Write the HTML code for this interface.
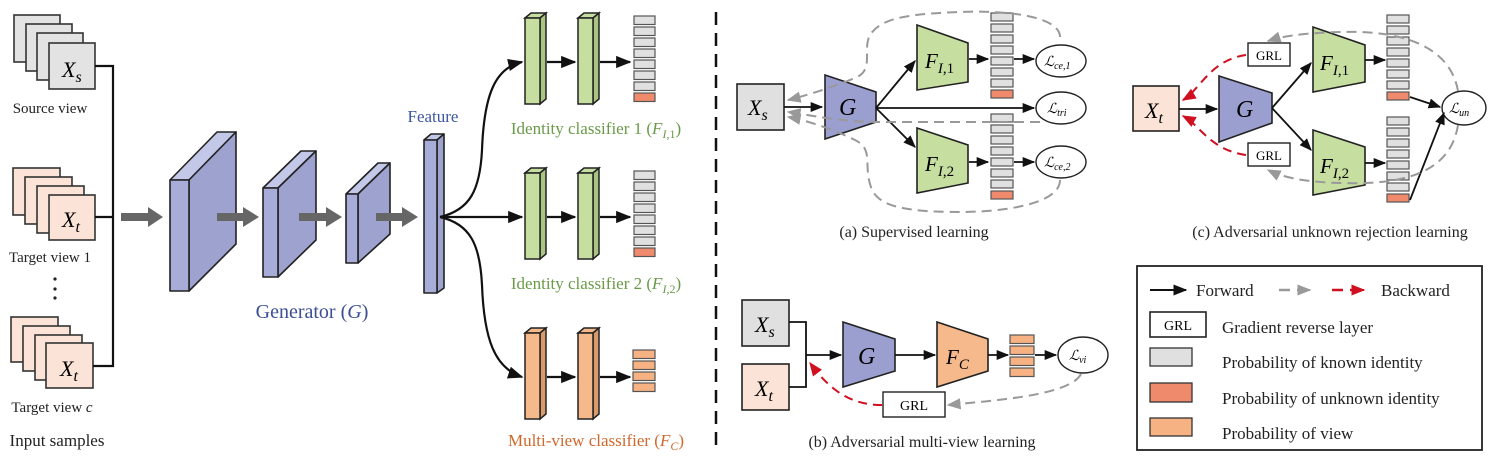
<!DOCTYPE html>
<html><head><meta charset="utf-8"><style>
html,body{margin:0;padding:0;background:#fff}
svg{display:block}
text{font-family:"Liberation Serif",serif}
.it{font-style:italic}
</style></head><body>
<svg width="1489" height="457" viewBox="0 0 1489 457" xmlns="http://www.w3.org/2000/svg">
<defs>
<marker id="ab" viewBox="0 0 10 10" refX="9" refY="5" markerWidth="7" markerHeight="7" orient="auto"><path d="M0,1 L10,5 L0,9 z" fill="#111"/></marker>
<marker id="ag" viewBox="0 0 10 10" refX="9" refY="5" markerWidth="7" markerHeight="7" orient="auto"><path d="M0,1 L10,5 L0,9 z" fill="#999"/></marker>
<marker id="ar" viewBox="0 0 10 10" refX="9" refY="5" markerWidth="7" markerHeight="7" orient="auto"><path d="M0,1 L10,5 L0,9 z" fill="#d01020"/></marker>
</defs>

<!-- Input stacks -->
<g stroke="#333" stroke-width="1.6">
<g fill="#e3e3e3">
<rect x="14" y="15" width="46" height="47"/><rect x="26" y="24" width="46" height="47"/><rect x="37" y="33" width="46" height="47"/><rect x="49" y="43" width="46" height="46"/>
</g>
<g fill="#fbe4d7">
<rect x="13" y="168" width="47" height="47"/><rect x="25" y="177" width="47" height="47"/><rect x="37" y="186" width="47" height="47"/><rect x="49" y="195" width="46" height="45"/>
<rect x="11" y="317" width="47" height="45"/><rect x="23" y="326" width="47" height="45"/><rect x="35" y="335" width="47" height="45"/><rect x="46" y="343" width="47" height="45"/>
</g>
</g>
<text x="62" y="77" font-size="22" class="it">X<tspan font-size="16" dy="5">s</tspan></text>
<text x="62" y="227" font-size="22" class="it">X<tspan font-size="16" dy="5">t</tspan></text>
<text x="60" y="376" font-size="22" class="it">X<tspan font-size="16" dy="5">t</tspan></text>
<text x="50" y="113" font-size="15" text-anchor="middle" fill="#222">Source view</text>
<text x="50" y="262" font-size="15" text-anchor="middle" fill="#222">Target view 1</text>
<text x="52" y="412" font-size="15" text-anchor="middle" fill="#222">Target view <tspan class="it">c</tspan></text>
<text x="57" y="446" font-size="17" text-anchor="middle" fill="#222">Input samples</text>
<g fill="#222"><circle cx="55" cy="279" r="1.6"/><circle cx="55" cy="289" r="1.6"/><circle cx="55" cy="298" r="1.6"/></g>
<path d="M95,66 H113 V366 H93 M95,217 H113" fill="none" stroke="#111" stroke-width="2.2"/>

<g fill="#666">
<path d="M121,213 H148 V207 L163,217 L148,227 V221 H121 z"/>
</g>

<!-- generator blocks -->
<g stroke="#222" stroke-width="1.6" stroke-linejoin="round">
<polygon points="170,180 217,132 236,132 189,180" fill="#c3c7e8"/>
<polygon points="189,180 236,132 236,244 189,291" fill="#9ea2cf"/>
<rect x="170" y="180" width="19" height="111" fill="#a8acd8"/>
<polygon points="263,188 301,151 316,151 278,188" fill="#c3c7e8"/>
<polygon points="278,188 316,151 316,240 278,277" fill="#9ea2cf"/>
<rect x="263" y="188" width="15" height="89" fill="#a8acd8"/>
<polygon points="346,194 378,163 390,163 358,194" fill="#c3c7e8"/>
<polygon points="358,194 390,163 390,234 358,263" fill="#9ea2cf"/>
<rect x="346" y="194" width="12" height="69" fill="#a8acd8"/>
<polygon points="424,140 431,134 444,134 437,140" fill="#c3c7e8"/>
<polygon points="437,140 444,134 444,288 437,293" fill="#9ea2cf"/>
<rect x="424" y="140" width="13" height="153" fill="#a8acd8"/>
</g>
<g fill="#666">
<path d="M217,213 H243 V207 L259,217 L243,227 V221 H217 z"/>
<path d="M299,213 H326 V207 L342,217 L326,227 V221 H299 z"/>
<path d="M376,213 H402 V207 L418,217 L402,227 V221 H376 z"/>
</g>
<text x="433" y="122" font-size="17" text-anchor="middle" fill="#3d58a0">Feature</text>
<text x="312" y="318" font-size="20" text-anchor="middle" fill="#3b4e94">Generator (<tspan class="it">G</tspan>)</text>

<!-- branches -->
<g fill="none" stroke="#111" stroke-width="2.2">
<path d="M440,217 C470,210 480,190 482,150 C484,95 495,68 522,62" marker-end="url(#ab)"/>
<path d="M440,217 H522" marker-end="url(#ab)"/>
<path d="M440,217 C470,224 480,244 482,285 C484,340 495,368 522,377" marker-end="url(#ab)"/>
</g>

<!-- classifier bars -->
<g stroke="#222" stroke-width="1.5">
<g fill="#c6dea0">
<polygon points="525,18 531,13 546,13 540,18"/><polygon points="540,18 546,13 546,99 540,104" fill="#a9c582"/><rect x="525" y="18" width="15" height="86"/>
<polygon points="578,18 584,13 599,13 593,18"/><polygon points="593,18 599,13 599,99 593,104" fill="#a9c582"/><rect x="578" y="18" width="15" height="86"/>
<polygon points="525,173 531,168 546,168 540,173"/><polygon points="540,173 546,168 546,254 540,259" fill="#a9c582"/><rect x="525" y="173" width="15" height="86"/>
<polygon points="578,173 584,168 599,168 593,173"/><polygon points="593,173 599,168 599,254 593,259" fill="#a9c582"/><rect x="578" y="173" width="15" height="86"/>
</g>
<g fill="#f6b98c">
<polygon points="525,333 531,328 546,328 540,333"/><polygon points="540,333 546,328 546,414 540,419" fill="#d99a6c"/><rect x="525" y="333" width="15" height="86"/>
<polygon points="578,333 584,328 599,328 593,333"/><polygon points="593,333 599,328 599,414 593,419" fill="#d99a6c"/><rect x="578" y="333" width="15" height="86"/>
</g>
</g>
<g stroke="#111" stroke-width="2.2" marker-end="url(#ab)">
<path d="M547,62 H575"/><path d="M600,62 H630"/>
<path d="M547,217 H575"/><path d="M600,217 H630"/>
<path d="M547,377 H575"/><path d="M600,377 H630"/>
</g>
<g stroke="#555" stroke-width="1.2" fill="#e0e0e0">
<rect x="634" y="16" width="21" height="8.5"/><rect x="634" y="27" width="21" height="8.5"/><rect x="634" y="38" width="21" height="8.5"/><rect x="634" y="49" width="21" height="8.5"/><rect x="634" y="60" width="21" height="8.5"/><rect x="634" y="71" width="21" height="8.5"/><rect x="634" y="82" width="21" height="8.5"/><rect x="634" y="93" width="21" height="8.5" fill="#f08a6c"/>
<rect x="634" y="171" width="21" height="8.5"/><rect x="634" y="182" width="21" height="8.5"/><rect x="634" y="193" width="21" height="8.5"/><rect x="634" y="204" width="21" height="8.5"/><rect x="634" y="215" width="21" height="8.5"/><rect x="634" y="226" width="21" height="8.5"/><rect x="634" y="237" width="21" height="8.5"/><rect x="634" y="248" width="21" height="8.5" fill="#f08a6c"/>
<g fill="#f6b282"><rect x="633" y="350" width="22" height="8.5"/><rect x="633" y="361" width="22" height="8.5"/><rect x="633" y="372" width="22" height="8.5"/><rect x="633" y="383" width="22" height="8.5"/></g>
</g>
<text x="596" y="134" font-size="17" text-anchor="middle" fill="#6a9a48">Identity classifier 1 (<tspan class="it">F</tspan><tspan class="it" font-size="12" dy="4">I</tspan><tspan font-size="12">,1</tspan><tspan dy="-4">)</tspan></text>
<text x="596" y="289" font-size="17" text-anchor="middle" fill="#6a9a48">Identity classifier 2 (<tspan class="it">F</tspan><tspan class="it" font-size="12" dy="4">I</tspan><tspan font-size="12">,2</tspan><tspan dy="-4">)</tspan></text>
<text x="596" y="446" font-size="17" text-anchor="middle" fill="#d0682c">Multi-view classifier (<tspan class="it">F</tspan><tspan class="it" font-size="12" dy="4">C</tspan><tspan dy="-4">)</tspan></text>

<path d="M716,12 V452" stroke="#111" stroke-width="2.5" stroke-dasharray="13,8"/>

<!-- (a) -->
<g stroke="#222" stroke-width="1.6">
<rect x="737" y="84" width="47" height="46" fill="#e0e0e0"/>
<polygon points="825,75 876,92 876,122 825,139" fill="#9b9fd0"/>
<polygon points="917,25 968,43 968,82 917,90" fill="#c6dea0"/>
<polygon points="917,128 968,145 968,183 917,193" fill="#c6dea0"/>
</g>
<text x="748" y="115" font-size="22" class="it">X<tspan font-size="16" dy="5">s</tspan></text>
<text x="839" y="115" font-size="24" class="it">G</text>
<text x="925" y="68" font-size="21" class="it">F<tspan font-size="15" dy="5">I</tspan><tspan font-size="15" font-style="normal">,1</tspan></text>
<text x="925" y="171" font-size="21" class="it">F<tspan font-size="15" dy="5">I</tspan><tspan font-size="15" font-style="normal">,2</tspan></text>
<g stroke="#555" stroke-width="1.2" fill="#e0e0e0">
<rect x="991" y="13" width="22" height="8"/><rect x="991" y="24" width="22" height="8"/><rect x="991" y="35" width="22" height="8"/><rect x="991" y="46" width="22" height="8"/><rect x="991" y="57" width="22" height="8"/><rect x="991" y="68" width="22" height="8"/><rect x="991" y="79" width="22" height="8"/><rect x="991" y="90" width="22" height="8" fill="#f08a6c"/>
<rect x="991" y="114" width="22" height="8"/><rect x="991" y="125" width="22" height="8"/><rect x="991" y="136" width="22" height="8"/><rect x="991" y="147" width="22" height="8"/><rect x="991" y="158" width="22" height="8"/><rect x="991" y="169" width="22" height="8"/><rect x="991" y="180" width="22" height="8"/><rect x="991" y="191" width="22" height="8" fill="#f08a6c"/>
</g>
<g fill="#fff" stroke="#222" stroke-width="1.4">
<ellipse cx="1061" cy="61" rx="25" ry="16"/><ellipse cx="1061" cy="108" rx="25" ry="16"/><ellipse cx="1061" cy="162" rx="25" ry="16"/>
</g>
<text x="1044" y="66" font-size="14" class="it">ℒ<tspan font-size="10" dy="3">ce,1</tspan></text>
<text x="1047" y="113" font-size="14" class="it">ℒ<tspan font-size="10" dy="3">tri</tspan></text>
<text x="1044" y="167" font-size="14" class="it">ℒ<tspan font-size="10" dy="3">ce,2</tspan></text>
<g stroke="#111" stroke-width="1.8" fill="none" marker-end="url(#ab)">
<path d="M784,107 H822"/><path d="M876,108 L915,61"/><path d="M876,108 L915,147"/><path d="M876,108 H1034"/>
<path d="M969,59 H988"/><path d="M1014,59 H1034"/><path d="M969,162 H988"/><path d="M1014,162 H1034"/>
</g>
<g stroke="#999" stroke-width="2" fill="none" stroke-dasharray="10,6" marker-end="url(#ag)">
<path d="M1060,37 C1060,15 1000,10 960,12 C900,14 880,20 870,35 C862,50 875,70 855,78 C830,88 805,96 788,100"/>
<path d="M1040,122 H880 C840,122 810,115 788,112"/>
<path d="M1060,180 C1060,205 1000,212 960,212 C900,212 880,205 872,190 C862,165 875,150 855,140 C830,128 805,120 788,117"/>
</g>
<text x="914" y="237" font-size="16" text-anchor="middle" fill="#222">(a) Supervised learning</text>

<!-- (c) -->
<g stroke="#222" stroke-width="1.6">
<rect x="1133" y="86" width="46" height="45" fill="#fbe4d7"/>
<polygon points="1219,76 1272,93 1272,123 1219,142" fill="#9b9fd0"/>
<polygon points="1313,27 1365,45 1365,82 1313,92" fill="#c6dea0"/>
<polygon points="1313,130 1365,147 1365,185 1313,195" fill="#c6dea0"/>
</g>
<g fill="#fff" stroke="#222" stroke-width="1.4">
<rect x="1248" y="43" width="42" height="23"/><rect x="1248" y="143" width="42" height="23"/>
<ellipse cx="1464" cy="108" rx="22" ry="17"/>
</g>
<text x="1269" y="60" font-size="13" text-anchor="middle">GRL</text>
<text x="1269" y="160" font-size="13" text-anchor="middle">GRL</text>
<text x="1145" y="118" font-size="22" class="it">X<tspan font-size="16" dy="5">t</tspan></text>
<text x="1236" y="117" font-size="24" class="it">G</text>
<text x="1320" y="70" font-size="21" class="it">F<tspan font-size="15" dy="5">I</tspan><tspan font-size="15" font-style="normal">,1</tspan></text>
<text x="1320" y="173" font-size="21" class="it">F<tspan font-size="15" dy="5">I</tspan><tspan font-size="15" font-style="normal">,2</tspan></text>
<text x="1449" y="113" font-size="14" class="it">ℒ<tspan font-size="10" dy="3">un</tspan></text>
<g stroke="#555" stroke-width="1.2" fill="#e0e0e0">
<rect x="1387" y="15" width="22" height="8"/><rect x="1387" y="26" width="22" height="8"/><rect x="1387" y="37" width="22" height="8"/><rect x="1387" y="48" width="22" height="8"/><rect x="1387" y="59" width="22" height="8"/><rect x="1387" y="70" width="22" height="8"/><rect x="1387" y="81" width="22" height="8"/><rect x="1387" y="92" width="22" height="8" fill="#f08a6c"/>
<rect x="1387" y="117" width="22" height="8"/><rect x="1387" y="128" width="22" height="8"/><rect x="1387" y="139" width="22" height="8"/><rect x="1387" y="150" width="22" height="8"/><rect x="1387" y="161" width="22" height="8"/><rect x="1387" y="172" width="22" height="8"/><rect x="1387" y="183" width="22" height="8"/><rect x="1387" y="194" width="22" height="8" fill="#f08a6c"/>
</g>
<g stroke="#111" stroke-width="1.8" fill="none" marker-end="url(#ab)">
<path d="M1179,109 H1217"/><path d="M1272,108 L1311,63"/><path d="M1272,108 L1311,150"/>
<path d="M1365,60 H1385"/><path d="M1365,163 H1385"/>
<path d="M1410,97 L1440,107"/><path d="M1410,200 L1444,113"/>
</g>
<g stroke="#999" stroke-width="2" fill="none" stroke-dasharray="10,6" marker-end="url(#ag)">
<path d="M1458,91 C1450,45 1400,30 1340,32 C1300,33 1280,37 1268,41"/>
<path d="M1458,125 C1450,175 1400,185 1340,183 C1300,182 1280,176 1268,170"/>
</g>
<g stroke="#d01020" stroke-width="2" fill="none" stroke-dasharray="9,6" marker-end="url(#ar)">
<path d="M1246,55 C1210,60 1200,90 1183,100"/>
<path d="M1246,155 C1210,150 1200,125 1183,116"/>
</g>
<text x="1330" y="237" font-size="16" text-anchor="middle" fill="#222">(c) Adversarial unknown rejection learning</text>

<!-- (b) -->
<g stroke="#222" stroke-width="1.6">
<rect x="742" y="300" width="47" height="46" fill="#e0e0e0"/>
<rect x="742" y="364" width="47" height="46" fill="#fbe4d7"/>
<polygon points="843,322 895,339 895,371 843,387" fill="#9b9fd0"/>
<polygon points="937,322 988,339 988,371 937,387" fill="#f6b98c"/>
</g>
<text x="755" y="332" font-size="22" class="it">X<tspan font-size="16" dy="5">s</tspan></text>
<text x="755" y="396" font-size="22" class="it">X<tspan font-size="16" dy="5">t</tspan></text>
<text x="858" y="364" font-size="24" class="it">G</text>
<text x="946" y="364" font-size="21" class="it">F<tspan font-size="15" dy="5">C</tspan></text>
<g stroke="#555" stroke-width="1.2" fill="#f6b282">
<rect x="1010" y="335" width="24" height="8.5"/><rect x="1010" y="346" width="24" height="8.5"/><rect x="1010" y="357" width="24" height="8.5"/><rect x="1010" y="368" width="24" height="8.5"/>
</g>
<g fill="#fff" stroke="#222" stroke-width="1.4">
<ellipse cx="1083" cy="355" rx="25" ry="18"/><rect x="883" y="392" width="62" height="25"/>
</g>
<text x="914" y="410" font-size="14" text-anchor="middle">GRL</text>
<text x="1069" y="360" font-size="14" class="it">ℒ<tspan font-size="10" dy="3">vi</tspan></text>
<path d="M789,322 H806 V387 H789" fill="none" stroke="#111" stroke-width="1.8"/>
<g stroke="#111" stroke-width="1.8" fill="none" marker-end="url(#ab)">
<path d="M806,355 H841"/><path d="M895,355 H935"/><path d="M988,355 H1008"/><path d="M1035,355 H1056"/>
</g>
<path d="M1081,374 C1070,395 1000,400 948,405" fill="none" stroke="#999" stroke-width="2" stroke-dasharray="10,6" marker-end="url(#ag)"/>
<path d="M882,405 C850,405 830,390 810,363" fill="none" stroke="#d01020" stroke-width="2" stroke-dasharray="9,6" marker-end="url(#ar)"/>
<text x="922" y="447" font-size="16" text-anchor="middle" fill="#222">(b) Adversarial multi-view learning</text>

<!-- legend -->
<rect x="1137" y="266" width="345" height="184" fill="#fff" stroke="#222" stroke-width="1.8"/>
<path d="M1150,290 H1186" stroke="#111" stroke-width="2" marker-end="url(#ab)"/>
<text x="1196" y="296" font-size="17" fill="#222">Forward</text>
<path d="M1279,290 H1290 M1297,290 H1305" stroke="#999" stroke-width="2.5"/>
<path d="M1300,290 H1310" stroke="#999" stroke-width="2" marker-end="url(#ag)"/>
<path d="M1332,290 H1343 M1350,290 H1358" stroke="#d01020" stroke-width="2.5"/>
<path d="M1353,290 H1364" stroke="#d01020" stroke-width="2" marker-end="url(#ar)"/>
<text x="1381" y="296" font-size="17" fill="#222">Backward</text>
<rect x="1150" y="312" width="56" height="25" fill="#fff" stroke="#222" stroke-width="1.6"/>
<text x="1178" y="330" font-size="14" text-anchor="middle">GRL</text>
<text x="1222" y="333" font-size="17" fill="#222">Gradient reverse layer</text>
<rect x="1150" y="348" width="42" height="18" fill="#e0e0e0" stroke="#333" stroke-width="1.3"/>
<text x="1222" y="368" font-size="17" fill="#222">Probability of known identity</text>
<rect x="1150" y="383" width="42" height="19" fill="#f08a6c" stroke="#333" stroke-width="1.3"/>
<text x="1222" y="404" font-size="17" fill="#222">Probability of unknown identity</text>
<rect x="1150" y="418" width="42" height="18" fill="#f6b282" stroke="#333" stroke-width="1.3"/>
<text x="1222" y="439" font-size="17" fill="#222">Probability of view</text>
</svg>
</body></html>
